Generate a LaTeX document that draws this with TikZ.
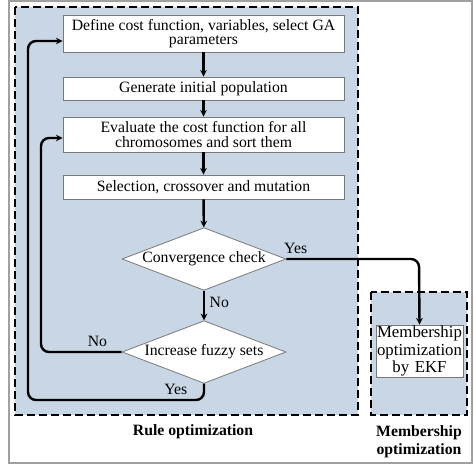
\documentclass[tikz,border=0pt]{standalone}
\usepackage{fontspec}
\setmainfont{Liberation Serif}
\usetikzlibrary{shapes.geometric,arrows.meta}

\definecolor{panelblue}{RGB}{200,214,229}
\definecolor{boxgray}{RGB}{120,120,120}

\tikzset{
  stepbox/.style={draw=boxgray, fill=white, line width=0.6pt, minimum width=210.75pt,
    inner sep=1pt, align=center, font=\fontsize{11.8}{13}\selectfont},
  decision/.style={diamond, draw=boxgray, fill=white, line width=0.6pt, aspect=2.6,
    inner sep=0pt, minimum width=123pt, minimum height=47pt, font=\fontsize{11.8}{13}\selectfont},
  panel/.style={fill=panelblue, draw=black, line width=1.1pt, dash pattern=on 6pt off 3pt},
  flow/.style={-{Stealth[length=5pt,width=5pt]}, line width=1.8pt},
  loop/.style={flow, rounded corners=6pt},
  lbl/.style={font=\fontsize{11.8}{13}\selectfont},
  title/.style={font=\bfseries\fontsize{11.8}{13.5}\selectfont, align=center}
}

\begin{document}
\begin{tikzpicture}[x=0.75pt, y=-0.75pt]
  \useasboundingbox (0,0) rectangle (474,476);

  % frame and panels
  \draw[boxgray!70, line width=0.8pt] (9,1) rectangle (472,463);
  \draw[panel] (15,7) rectangle (358,415);
  \draw[panel] (371,292) rectangle (467,415);

  % GA steps
  \node[stepbox, minimum height=27.75pt] (def) at (203.5,33.5) {Define cost function, variables, select GA\\[-2pt]parameters};
  \node[stepbox, minimum height=17.25pt] (gen) at (203.5,88.5) {Generate initial population};
  \node[stepbox, minimum height=26.25pt] (eval) at (203.5,134.5) {Evaluate the cost function for all\\[-2pt]chromosomes and sort them};
  \node[stepbox, minimum height=18pt] (sel) at (203.5,187) {Selection, crossover and mutation};
  \node[decision] (conv) at (204,259) {Convergence check};
  \node[decision] (incr) at (204,352) {Increase fuzzy sets};

  % EKF step
  \node[stepbox, minimum width=65.25pt, text width=64pt, minimum height=39pt, inner sep=0.3pt,
    font=\fontsize{12.6}{13.2}\selectfont] (memb) at (419.5,351)
    {Membership\\optimization\\by EKF};

  % loop corners
  \coordinate (outerbot) at (28,400);
  \coordinate (innerl) at (41,352);

  % connectors
  \draw[flow] (def) -- (gen);
  \draw[flow] (gen) -- (eval);
  \draw[flow] (eval) -- (sel);
  \draw[flow] (sel) -- (conv);
  \draw[flow] (conv) -- node[lbl, right, pos=0.4] {No} (incr);
  \draw[loop] (conv.east) -- node[lbl, above, pos=0.07] {Yes} (419,259) -- (memb.north);
  \draw[loop] (incr.west) -- node[lbl, above, pos=0.3] {No} (innerl) -- (41,138) -- (eval.west |- 0,138);
  \draw[loop] (incr.south) -- (204,400) -- node[lbl, above, pos=0.16] {Yes} (outerbot) -- (28,41) -- (def.west |- 0,41);

  % panel titles
  \node[title] (ruleopt) at (193,432) {Rule optimization};
  \node[title] (membopt) at (419,442) {Membership\\optimization};
\end{tikzpicture}
\end{document}
